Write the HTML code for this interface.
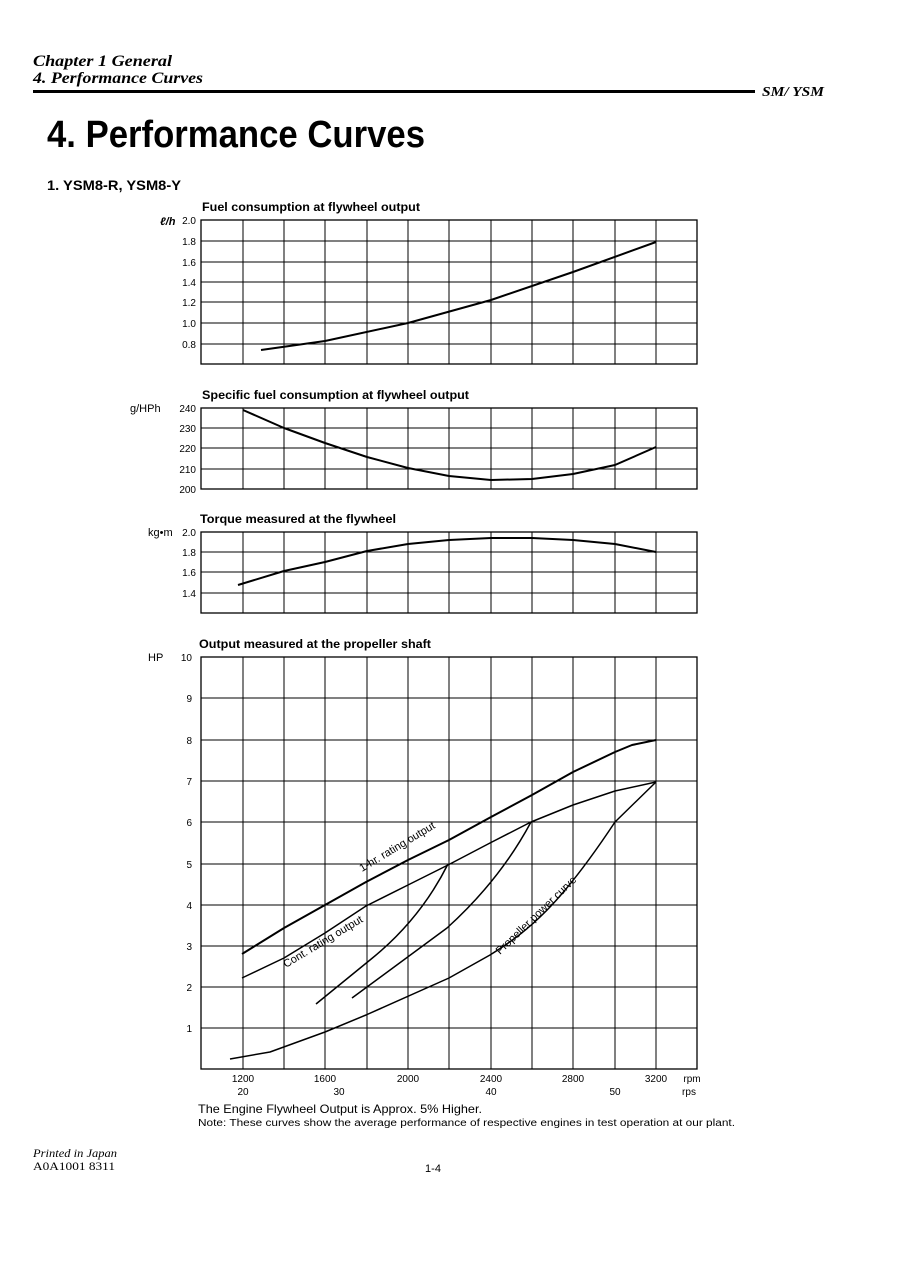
<!DOCTYPE html>
<html><head><meta charset="utf-8"><style>
body{margin:0;background:#fff;}
</style></head><body>
<svg width="907" height="1284" viewBox="0 0 907 1284" xmlns="http://www.w3.org/2000/svg" style="display:block;font-family:'Liberation Sans',sans-serif">
<rect width="907" height="1284" fill="#fff"/>
<g font-family="Liberation Serif" font-style="italic" font-weight="bold" font-size="16">
<text x="33" y="66" textLength="139" lengthAdjust="spacingAndGlyphs">Chapter 1 General</text>
<text x="33" y="83" textLength="170" lengthAdjust="spacingAndGlyphs">4. Performance Curves</text>
<text x="762" y="96" font-size="14" textLength="62" lengthAdjust="spacingAndGlyphs">SM/ YSM</text>
</g>
<rect x="33" y="90" width="722" height="3" fill="#000"/>
<text x="47" y="147" font-size="38" font-weight="bold" textLength="378" lengthAdjust="spacingAndGlyphs">4. Performance Curves</text>
<text x="47" y="190" font-size="14" font-weight="bold" textLength="134" lengthAdjust="spacingAndGlyphs">1. YSM8-R, YSM8-Y</text>

<g stroke="#000" stroke-width="1" fill="none">
<rect x="201" y="220" width="496" height="144" stroke-width="1.3"/>
<path d="M243 220V364M284 220V364M325 220V364M367 220V364M408 220V364M449 220V364M491 220V364M532 220V364M573 220V364M615 220V364M656 220V364"/>
<path d="M201 241H697M201 262H697M201 282H697M201 302H697M201 323H697M201 344H697"/>
<rect x="201" y="408" width="496" height="81" stroke-width="1.3"/>
<path d="M243 408V489M284 408V489M325 408V489M367 408V489M408 408V489M449 408V489M491 408V489M532 408V489M573 408V489M615 408V489M656 408V489"/>
<path d="M201 428H697M201 448H697M201 469H697"/>
<rect x="201" y="532" width="496" height="81" stroke-width="1.3"/>
<path d="M243 532V613M284 532V613M325 532V613M367 532V613M408 532V613M449 532V613M491 532V613M532 532V613M573 532V613M615 532V613M656 532V613"/>
<path d="M201 552H697M201 572H697M201 593H697"/>
<rect x="201" y="657" width="496" height="412" stroke-width="1.3"/>
<path d="M243 657V1069M284 657V1069M325 657V1069M367 657V1069M408 657V1069M449 657V1069M491 657V1069M532 657V1069M573 657V1069M615 657V1069M656 657V1069"/>
<path d="M201 698H697M201 740H697M201 781H697M201 822H697M201 864H697M201 905H697M201 946H697M201 987H697M201 1028H697"/>
</g>
<g stroke="#000" fill="none" stroke-width="2" stroke-linejoin="round">
<polyline points="261,350 325,341 408,323 491,300 573,272 656,242"/>
<polyline points="243,410 284,428 325,443 367,457 408,468 449,476 491,480 532,479 573,474 615,465 656,447"/>
<polyline points="238,585 284,571 325,562 367,551 408,544 449,540 491,538 532,538 573,540 615,544 656,552"/>
<polyline points="242,954 284,928 325,905 366,882 408,860 449,840 491,817 532,795 573,772 615,752 632,745 656,740"/>
</g>
<g stroke="#000" fill="none" stroke-width="1.5" stroke-linejoin="round">
<polyline points="242,978 284,958 325,933 366,906 408,885 448,865 490,843 531,822 573,805 615,791 656,782"/>
<path d="M448 864 Q420 920 370 960 L316 1004"/>
<path d="M531 822 Q500 880 447 928 L352 998"/>
<path d="M230 1059 L270 1052 L325 1032 L366 1015 L449 978 L490 955 C530 930 560 905 615 822 L656 782"/>
</g>
<g font-size="11">
<text transform="translate(362,872) rotate(-31)">1-hr. rating output</text>
<text transform="translate(286,968) rotate(-31)">Cont. rating output</text>
<text transform="translate(500,955) rotate(-44)">Propeller power curve</text>
</g>
<g font-size="12" font-weight="bold">
<text x="202" y="211" textLength="218" lengthAdjust="spacingAndGlyphs">Fuel consumption at flywheel output</text>
<text x="202" y="399" textLength="267" lengthAdjust="spacingAndGlyphs">Specific fuel consumption at flywheel output</text>
<text x="200" y="523" textLength="196" lengthAdjust="spacingAndGlyphs">Torque measured at the flywheel</text>
<text x="199" y="648" textLength="232" lengthAdjust="spacingAndGlyphs">Output measured at the propeller shaft</text>
</g>
<g font-size="10" text-anchor="end">
<text x="196" y="224">2.0</text><text x="196" y="245">1.8</text><text x="196" y="266">1.6</text><text x="196" y="286">1.4</text><text x="196" y="306">1.2</text><text x="196" y="327">1.0</text><text x="196" y="348">0.8</text>
<text x="196" y="412">240</text><text x="196" y="432">230</text><text x="196" y="452">220</text><text x="196" y="473">210</text><text x="196" y="493">200</text>
<text x="196" y="536">2.0</text><text x="196" y="556">1.8</text><text x="196" y="576">1.6</text><text x="196" y="597">1.4</text>
<text x="192" y="661">10</text><text x="192" y="702">9</text><text x="192" y="744">8</text><text x="192" y="785">7</text><text x="192" y="826">6</text><text x="192" y="868">5</text><text x="192" y="909">4</text><text x="192" y="950">3</text><text x="192" y="991">2</text><text x="192" y="1032">1</text>
</g>
<g font-size="11">
<text x="160" y="225" font-style="italic" font-weight="bold">ℓ/h</text>
<text x="130" y="412">g/HPh</text>
<text x="148" y="536">kg•m</text>
<text x="148" y="661">HP</text>
</g>
<g font-size="10" text-anchor="middle">
<text x="243" y="1082">1200</text><text x="325" y="1082">1600</text><text x="408" y="1082">2000</text><text x="491" y="1082">2400</text><text x="573" y="1082">2800</text><text x="656" y="1082">3200</text>
<text x="692" y="1082">rpm</text>
<text x="243" y="1095">20</text><text x="339" y="1095">30</text><text x="491" y="1095">40</text><text x="615" y="1095">50</text>
<text x="689" y="1095">rps</text>
</g>
<text x="198" y="1113" font-size="12" textLength="284" lengthAdjust="spacingAndGlyphs">The Engine Flywheel Output is Approx. 5% Higher.</text>
<text x="198" y="1126" font-size="10" textLength="537" lengthAdjust="spacingAndGlyphs">Note: These curves show the average performance of respective engines in test operation at our plant.</text>
<g font-family="Liberation Serif" font-size="12">
<text x="33" y="1157" font-style="italic" textLength="84" lengthAdjust="spacingAndGlyphs">Printed in Japan</text>
<text x="33" y="1170" textLength="82" lengthAdjust="spacingAndGlyphs">A0A1001 8311</text>
</g>
<text x="433" y="1172" font-size="11" text-anchor="middle">1-4</text>
</svg>
</body></html>
